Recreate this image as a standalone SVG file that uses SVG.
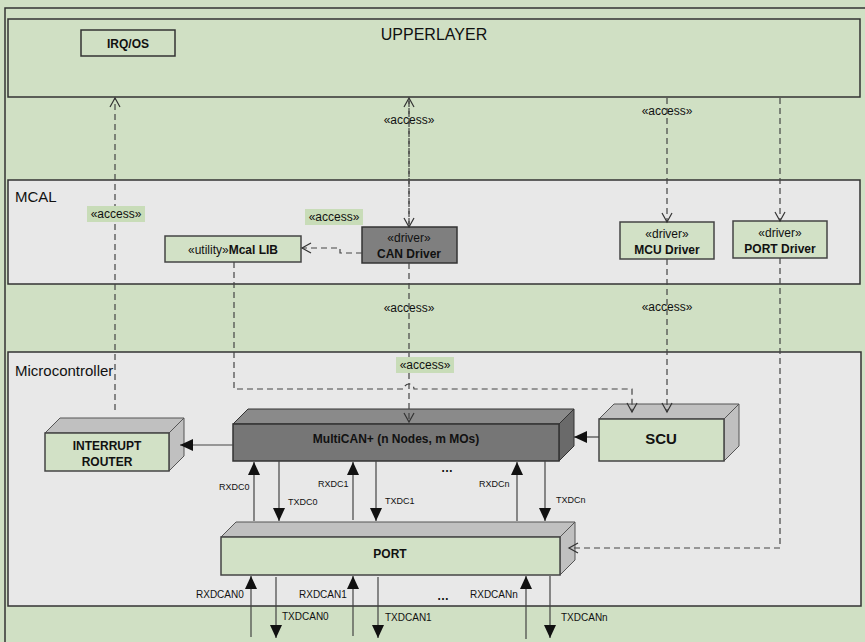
<svg xmlns="http://www.w3.org/2000/svg" width="865" height="642" viewBox="0 0 865 642">
<style>
text{font-family:"Liberation Sans",Arial,sans-serif;fill:#111}
.frame{stroke:#333;stroke-width:1.5}
.box{fill:#d2e1c6;stroke:#444;stroke-width:1.5}
.lbl{font-size:12px;text-anchor:middle}
.b{font-weight:bold}
.d{fill:none;stroke:#444;stroke-width:1.2;stroke-dasharray:6,4}
.s{fill:none;stroke:#444;stroke-width:1.2}
.sm{font-size:9px}
.acc{fill:#c8dcb8}
</style>
<defs>
<marker id="o" markerWidth="12" markerHeight="12" refX="10" refY="6" orient="auto" markerUnits="userSpaceOnUse"><path d="M1,1 L10,6 L1,11" fill="none" stroke="#333" stroke-width="1.2"/></marker>
<marker id="f" markerWidth="14" markerHeight="12" refX="13" refY="6" orient="auto" markerUnits="userSpaceOnUse"><path d="M0,0 L13,6 L0,12 Z" fill="#111"/></marker>
</defs>
<rect width="865" height="642" fill="#d0e0c4"/>
<rect x="5" y="8" width="862" height="640" fill="none" class="frame"/>
<g id="upperlayer"><rect x="8" y="19" width="852" height="78" fill="#d0e0c4" class="frame"/>
<text x="434" y="40" font-size="16" text-anchor="middle">UPPERLAYER</text></g>
<g id="irqos"><rect x="81" y="30" width="94" height="26" fill="#d0e0c4" class="frame"/><text x="128" y="48" class="lbl b">IRQ/OS</text></g>
<g id="mcal"><rect x="8" y="180" width="852" height="104" fill="#e8e8e8" class="frame"/><text x="15" y="202" font-size="15">MCAL</text></g>
<g id="micro"><rect x="8" y="352" width="853" height="254" fill="#e8e8e8" class="frame"/><text x="15" y="376" font-size="15">Microcontroller</text></g>
<g id="mcallib"><rect x="165" y="236" width="136" height="26" class="box"/><text x="233" y="254" class="lbl">«utility»<tspan class="b">Mcal LIB</tspan></text></g>
<g id="candriver"><rect x="362" y="227" width="95" height="36" fill="#7f7f7f" stroke="#333" stroke-width="1.5"/><text x="409" y="242" class="lbl">«driver»</text><text x="409" y="258" class="lbl b">CAN Driver</text></g>
<g id="mcudriver"><rect x="620" y="222" width="94" height="37" class="box"/><text x="667" y="238" class="lbl">«driver»</text><text x="667" y="254" class="lbl b">MCU Driver</text></g>
<g id="portdriver"><rect x="733" y="221" width="94" height="37" class="box"/><text x="780" y="237" class="lbl">«driver»</text><text x="780" y="253" class="lbl b">PORT Driver</text></g>
<g id="router"><path d="M45,433 L60,418 L184,418 L169,433 Z" fill="#c0c0c0" stroke="#555"/><path d="M169,433 L184,418 L184,456 L169,471 Z" fill="#c0c0c0" stroke="#555"/><rect x="45" y="433" width="124" height="38" class="box"/>
<text x="107" y="450" class="lbl b">INTERRUPT</text><text x="107" y="466" class="lbl b">ROUTER</text></g>
<g id="multican"><path d="M233,424 L248,409 L574,409 L559,424 Z" fill="#8a8a8a" stroke="#333"/><path d="M559,424 L574,409 L574,446 L559,461 Z" fill="#6a6a6a" stroke="#333"/><rect x="233" y="424" width="326" height="37" fill="#767676" stroke="#333" stroke-width="1.5"/>
<text x="396" y="443" class="lbl b">MultiCAN+ (n Nodes, m MOs)</text></g>
<g id="scu"><path d="M599,419 L614,404 L739,404 L724,419 Z" fill="#c0c0c0" stroke="#555"/><path d="M724,419 L739,404 L739,446 L724,461 Z" fill="#c0c0c0" stroke="#555"/><rect x="599" y="419" width="125" height="42" class="box"/><text x="661" y="444" font-size="15" text-anchor="middle" class="b">SCU</text></g>
<g id="port"><path d="M221,537 L236,522 L575,522 L560,537 Z" fill="#c0c0c0" stroke="#555"/><path d="M560,537 L575,522 L575,560 L560,575 Z" fill="#c0c0c0" stroke="#555"/><rect x="221" y="537" width="339" height="38" class="box"/><text x="390" y="558" class="lbl b">PORT</text></g>
<g id="connectors">
<path d="M115,410 V98" class="d" marker-end="url(#o)"/>
<path d="M409,227 V98" class="d" marker-end="url(#o)"/>
<path d="M409,98 V227" class="d" marker-end="url(#o)"/>
<path d="M409,263 V422" class="d" marker-end="url(#o)"/>
<path d="M667,98 V222" class="d" marker-end="url(#o)"/>
<path d="M667,259 V412" class="d" marker-end="url(#o)"/>
<path d="M780,98 V221" class="d" marker-end="url(#o)"/>
<path d="M780,258 V548 H569" class="d" marker-end="url(#o)"/>
<path d="M234,262 V389 H404 A5,5 0 0 1 414,389 H632 V412" class="d" marker-end="url(#o)"/>
<path d="M362,253 H340 V248 H302" class="d" marker-end="url(#o)"/>
<path d="M233,445 H180" class="s" marker-end="url(#f)"/>
<path d="M599,437 H574" class="s" marker-end="url(#f)"/>
<path d="M254,521 V462" class="s" marker-end="url(#f)"/>
<path d="M279,461 V521" class="s" marker-end="url(#f)"/>
<path d="M353,520 V462" class="s" marker-end="url(#f)"/>
<path d="M376,461 V521" class="s" marker-end="url(#f)"/>
<path d="M517,521 V462" class="s" marker-end="url(#f)"/>
<path d="M545,461 V521" class="s" marker-end="url(#f)"/>
<path d="M251,637 V576" class="s" marker-end="url(#f)"/>
<path d="M276,577 V638" class="s" marker-end="url(#f)"/>
<path d="M353,636 V576" class="s" marker-end="url(#f)"/>
<path d="M378,577 V638" class="s" marker-end="url(#f)"/>
<path d="M526,639 V576" class="s" marker-end="url(#f)"/>
<path d="M550,576 V638" class="s" marker-end="url(#f)"/>
<rect x="87" y="206" width="58" height="16" class="acc"/>
<rect x="305" y="209" width="58" height="16" class="acc"/>
<rect x="396" y="357" width="58" height="16" class="acc"/>
<text x="409" y="124" class="lbl">«access»</text>
<text x="667" y="115" class="lbl">«access»</text>
<text x="116" y="218" class="lbl">«access»</text>
<text x="334" y="221" class="lbl">«access»</text>
<text x="409" y="312" class="lbl">«access»</text>
<text x="667" y="311" class="lbl">«access»</text>
<text x="425" y="369" class="lbl">«access»</text>
<text x="219" y="490" class="sm">RXDC0</text><text x="288" y="505" class="sm">TXDC0</text>
<text x="318" y="487" class="sm">RXDC1</text><text x="385" y="504" class="sm">TXDC1</text>
<text x="479" y="487" class="sm">RXDCn</text><text x="556" y="503" class="sm">TXDCn</text>
<text x="447" y="472" class="lbl b">…</text><text x="443" y="600" class="lbl b">…</text>
<text x="196" y="598" font-size="10">RXDCAN0</text><text x="282" y="620" font-size="10">TXDCAN0</text>
<text x="299" y="598" font-size="10">RXDCAN1</text><text x="385" y="621" font-size="10">TXDCAN1</text>
<text x="470" y="598" font-size="10">RXDCANn</text><text x="561" y="621" font-size="10">TXDCANn</text>
</g>
</svg>
